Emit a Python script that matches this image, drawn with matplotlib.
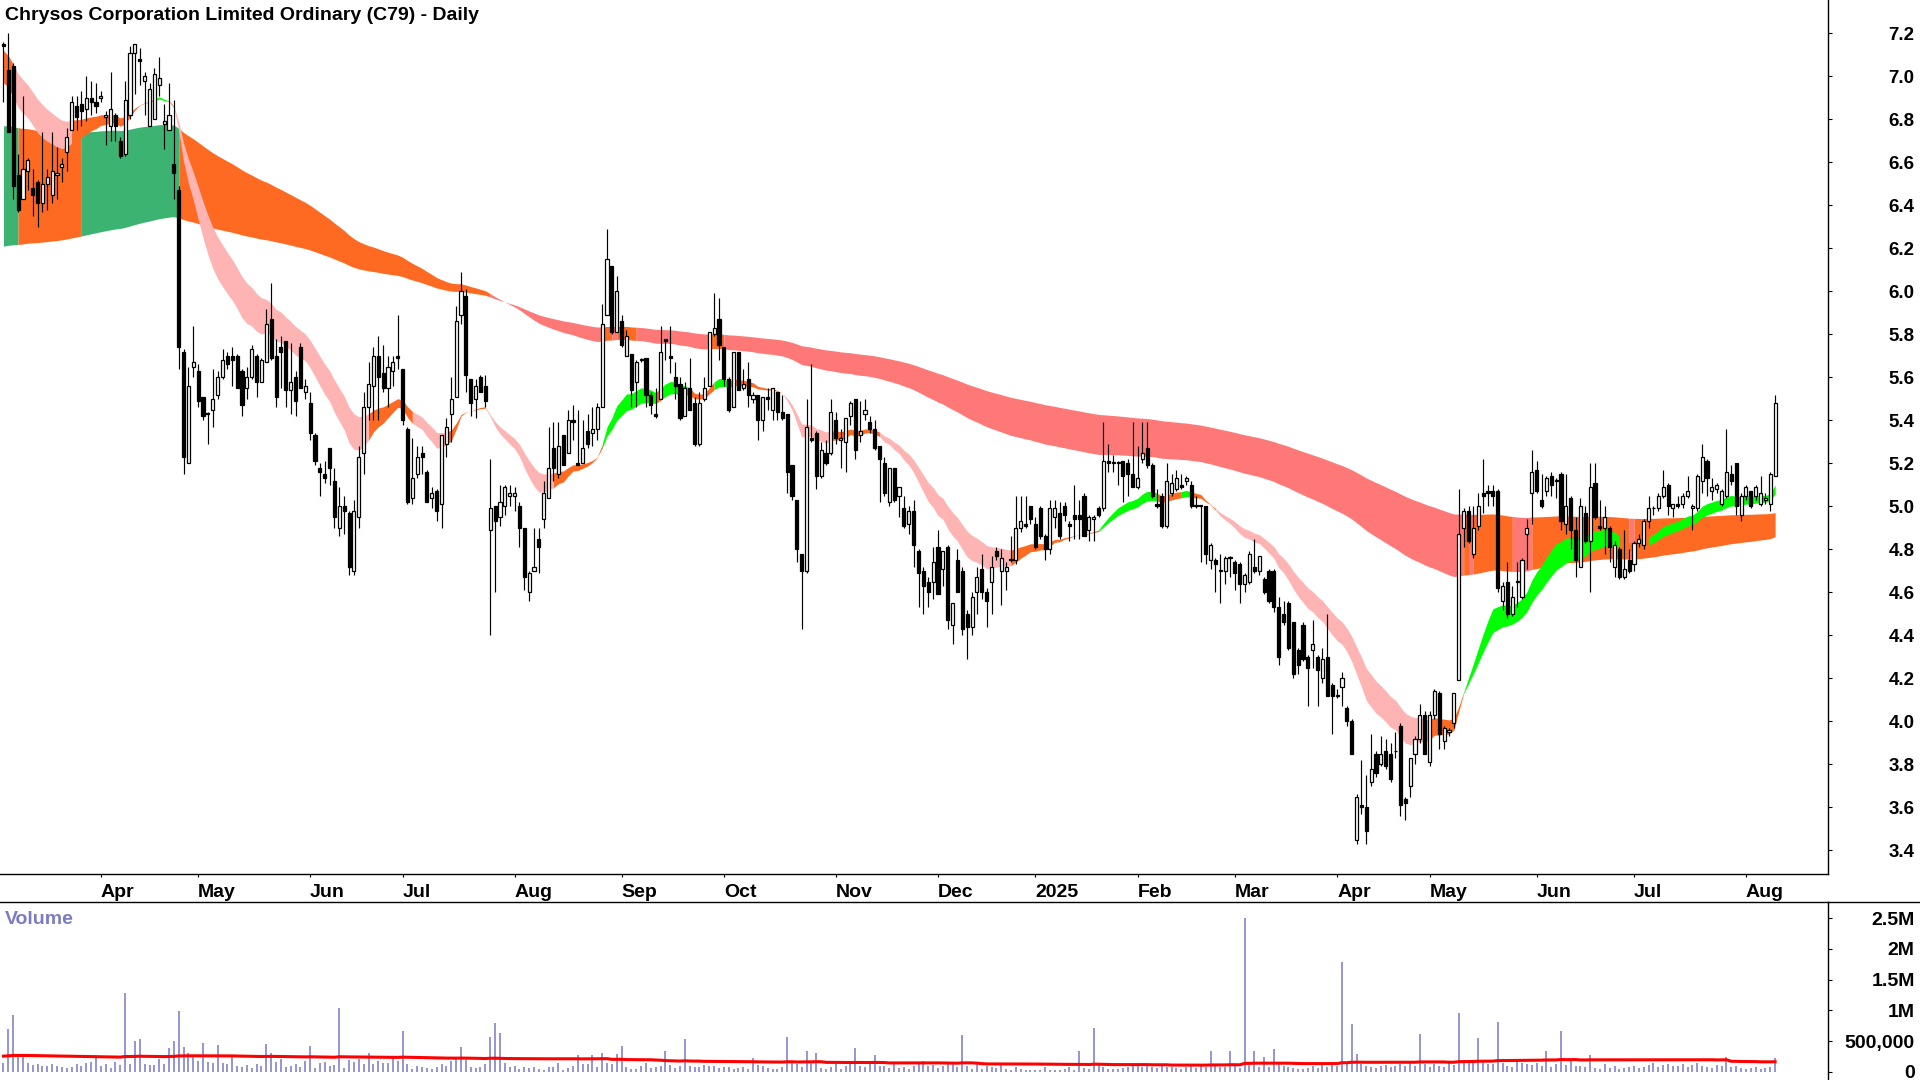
import numpy as np
import pandas as pd
import matplotlib
matplotlib.use('Agg')
import matplotlib.pyplot as plt
from matplotlib.lines import Line2D

plt.rcParams['font.family'] = ['Liberation Sans', 'DejaVu Sans']

title = 'Chrysos Corporation Limited Ordinary (C79) - Daily'

# daily bars, 1 Mar 2024 .. 11 Aug 2025
opens = [
    7.15, 7.03, 7.05, 6.54, 6.43, 6.56, 6.48, 6.51, 6.41, 6.50,
    6.45, 6.54, 6.58, 6.65, 6.75, 6.86, 6.87, 6.85, 6.90, 6.88,
    6.90, 6.81, 6.77, 6.82, 6.70, 6.64, 6.82, 7.11, 7.08, 6.98,
    6.77, 6.80, 6.96, 6.78, 6.75, 6.59, 6.47, 5.72, 5.20, 5.65,
    5.63, 5.51, 5.43, 5.45, 5.52, 5.60, 5.70, 5.70, 5.70, 5.63,
    5.55, 5.60, 5.70, 5.58, 5.67, 5.87, 5.70, 5.74, 5.77, 5.54,
    5.60, 5.74, 5.53, 5.48, 5.33, 5.18, 5.15, 5.27, 5.12, 4.90,
    5.00, 4.97, 4.70, 4.95, 5.25, 5.46, 5.56, 5.70, 5.62, 5.55,
    5.63, 5.70, 5.64, 5.36, 5.04, 5.15, 5.25, 5.16, 5.04, 5.07,
    5.01, 5.29, 5.43, 5.51, 5.89, 5.98, 5.59, 5.50, 5.60, 5.56,
    4.89, 5.00, 4.95, 5.00, 5.05, 5.05, 5.00, 4.90, 4.60, 4.70,
    4.85, 4.94, 5.04, 5.27, 5.15, 5.33, 5.25, 5.40, 5.20, 5.20,
    5.35, 5.34, 5.36, 5.46, 5.89, 6.12, 5.81, 5.86, 5.70, 5.71,
    5.58, 5.68, 5.69, 5.52, 5.43, 5.50, 5.78, 5.70, 5.60, 5.57,
    5.42, 5.55, 5.48, 5.29, 5.50, 5.56, 5.80, 5.87, 5.74, 5.59,
    5.46, 5.72, 5.55, 5.59, 5.50, 5.52, 5.40, 5.51, 5.45, 5.53,
    5.44, 5.43, 5.19, 5.03, 4.78, 4.70, 5.32, 5.34, 5.14, 5.25,
    5.25, 5.40, 5.31, 5.30, 5.42, 5.50, 5.33, 5.43, 5.39, 5.36,
    5.28, 5.20, 5.02, 5.18, 5.05, 4.99, 4.92, 4.98, 4.79, 4.70,
    4.65, 4.65, 4.81, 4.71, 4.81, 4.45, 4.75, 4.70, 4.50, 4.44,
    4.60, 4.71, 4.60, 4.65, 4.79, 4.70, 4.70, 4.75, 4.75, 4.90,
    4.92, 5.00, 4.92, 4.99, 4.86, 4.80, 4.95, 4.97, 5.00, 4.92,
    4.96, 4.96, 5.05, 4.89, 4.94, 4.99, 4.99, 5.21, 5.20, 5.20,
    5.21, 5.20, 5.15, 5.09, 5.22, 5.27, 5.19, 5.01, 5.05, 4.91,
    5.06, 5.08, 5.10, 5.12, 5.10, 5.00, 5.00, 5.00, 4.75, 4.75,
    4.70, 4.70, 4.76, 4.74, 4.73, 4.64, 4.65, 4.72, 4.70, 4.66,
    4.70, 4.70, 4.53, 4.50, 4.55, 4.46, 4.33, 4.45, 4.30, 4.33,
    4.30, 4.20, 4.30, 4.17, 4.12, 4.16, 4.06, 4.00, 3.45, 3.61,
    3.60, 3.72, 3.85, 3.80, 3.86, 3.85, 3.86, 3.98, 3.64, 3.70,
    3.85, 3.92, 4.03, 3.81, 4.03, 4.13, 3.91, 3.95, 3.99, 4.19,
    4.90, 4.98, 4.78, 4.91, 5.06, 5.07, 5.07, 5.07, 4.56, 4.65,
    4.50, 4.65, 4.58, 4.87, 5.06, 5.17, 5.03, 5.07, 5.14, 5.12,
    5.15, 4.92, 5.04, 4.89, 4.72, 4.97, 4.84, 5.11, 4.91, 4.90,
    4.90, 4.72, 4.80, 4.67, 4.75, 4.73, 4.83, 4.82, 4.93, 4.99,
    4.99, 5.05, 5.10, 4.99, 5.01, 5.01, 5.05, 4.99, 4.99, 5.12,
    5.21, 5.07, 5.08, 5.01, 5.05, 5.15, 5.20, 4.96, 5.05, 5.07,
    5.05, 5.01, 5.03, 5.01, 5.14,
]
highs = [
    7.16, 7.20, 7.06, 6.64, 6.91, 6.62, 6.57, 6.52, 6.74, 6.57,
    6.74, 6.67, 6.62, 6.76, 6.91, 6.91, 6.93, 7.00, 6.98, 6.97,
    6.93, 6.84, 7.02, 6.83, 6.72, 6.98, 7.14, 7.15, 7.13, 7.02,
    6.97, 7.04, 7.09, 6.87, 6.97, 6.89, 6.49, 5.73, 5.65, 5.84,
    5.66, 5.51, 5.44, 5.64, 5.63, 5.73, 5.72, 5.74, 5.71, 5.64,
    5.65, 5.75, 5.71, 5.69, 5.92, 6.04, 5.78, 5.79, 5.77, 5.76,
    5.63, 5.76, 5.59, 5.53, 5.34, 5.20, 5.21, 5.27, 5.18, 5.09,
    5.05, 4.98, 5.03, 5.28, 5.53, 5.67, 5.74, 5.79, 5.75, 5.70,
    5.70, 5.89, 5.64, 5.37, 5.32, 5.28, 5.28, 5.17, 5.09, 5.08,
    5.33, 5.41, 5.60, 5.93, 6.09, 6.01, 5.59, 5.59, 5.61, 5.61,
    5.22, 5.00, 5.10, 5.10, 5.10, 5.09, 5.02, 4.90, 4.70, 4.90,
    4.90, 5.12, 5.37, 5.39, 5.39, 5.33, 5.45, 5.47, 5.45, 5.40,
    5.43, 5.46, 5.48, 5.94, 6.29, 6.12, 6.07, 5.89, 5.82, 5.71,
    5.68, 5.69, 5.69, 5.53, 5.55, 5.84, 5.78, 5.84, 5.67, 5.60,
    5.58, 5.69, 5.51, 5.53, 5.60, 5.81, 5.99, 5.97, 5.74, 5.60,
    5.72, 5.72, 5.64, 5.67, 5.53, 5.52, 5.51, 5.55, 5.55, 5.53,
    5.52, 5.43, 5.19, 5.03, 4.78, 5.50, 5.66, 5.35, 5.30, 5.31,
    5.50, 5.44, 5.36, 5.41, 5.49, 5.50, 5.49, 5.50, 5.42, 5.40,
    5.28, 5.23, 5.18, 5.18, 5.09, 5.05, 5.00, 5.03, 4.80, 4.72,
    4.67, 4.81, 4.89, 4.79, 4.82, 4.55, 4.80, 4.72, 4.52, 4.60,
    4.72, 4.78, 4.62, 4.77, 4.81, 4.80, 4.74, 4.86, 5.05, 5.05,
    5.05, 5.00, 4.95, 5.00, 4.87, 5.03, 5.03, 5.02, 5.02, 4.93,
    5.10, 5.03, 5.06, 4.96, 4.96, 5.00, 5.39, 5.29, 5.24, 5.21,
    5.21, 5.22, 5.39, 5.28, 5.39, 5.39, 5.20, 5.08, 5.06, 5.20,
    5.15, 5.17, 5.15, 5.14, 5.12, 5.05, 5.00, 5.00, 4.83, 4.76,
    4.78, 4.77, 4.77, 4.75, 4.74, 4.69, 4.79, 4.85, 4.77, 4.67,
    4.71, 4.71, 4.58, 4.56, 4.56, 4.46, 4.34, 4.46, 4.31, 4.47,
    4.31, 4.34, 4.50, 4.18, 4.15, 4.23, 4.07, 4.01, 3.66, 3.82,
    3.75, 3.94, 3.86, 3.93, 3.92, 3.90, 3.95, 3.99, 3.65, 3.83,
    3.93, 4.08, 4.05, 4.05, 4.15, 4.14, 3.98, 3.97, 4.13, 5.08,
    4.99, 5.00, 5.00, 5.06, 5.22, 5.10, 5.10, 5.08, 4.65, 4.74,
    4.63, 4.74, 4.76, 4.94, 5.26, 5.21, 5.15, 5.14, 5.16, 5.13,
    5.16, 5.15, 5.05, 4.95, 5.04, 5.00, 5.20, 5.20, 5.03, 5.00,
    4.91, 4.84, 4.81, 4.89, 4.80, 4.84, 4.87, 4.94, 5.05, 5.00,
    5.06, 5.17, 5.11, 5.01, 5.05, 5.06, 5.14, 5.01, 5.15, 5.29,
    5.22, 5.13, 5.11, 5.08, 5.36, 5.19, 5.20, 5.06, 5.10, 5.07,
    5.10, 5.14, 5.06, 5.16, 5.52,
]
lows = [
    6.88, 6.74, 6.43, 6.37, 6.43, 6.47, 6.35, 6.30, 6.37, 6.38,
    6.41, 6.43, 6.51, 6.56, 6.75, 6.75, 6.77, 6.79, 6.82, 6.83,
    6.88, 6.68, 6.70, 6.70, 6.62, 6.63, 6.80, 6.92, 6.96, 6.82,
    6.77, 6.80, 6.91, 6.66, 6.75, 6.43, 5.64, 5.15, 5.20, 5.60,
    5.46, 5.40, 5.29, 5.37, 5.50, 5.59, 5.64, 5.56, 5.55, 5.42,
    5.50, 5.59, 5.51, 5.58, 5.67, 5.68, 5.46, 5.55, 5.46, 5.43,
    5.42, 5.55, 5.50, 5.31, 5.19, 5.05, 5.11, 5.10, 4.90, 4.86,
    4.87, 4.68, 4.68, 4.90, 5.15, 5.40, 5.40, 5.40, 5.53, 5.46,
    5.56, 5.64, 5.38, 5.01, 5.01, 5.13, 5.15, 5.02, 4.99, 4.93,
    4.90, 5.23, 5.30, 5.51, 5.85, 5.53, 5.42, 5.41, 5.53, 5.46,
    4.40, 4.60, 4.91, 4.96, 5.00, 4.98, 4.81, 4.61, 4.56, 4.70,
    4.69, 4.90, 5.04, 5.12, 5.13, 5.19, 5.25, 5.31, 5.19, 5.20,
    5.27, 5.28, 5.31, 5.46, 5.89, 5.80, 5.81, 5.74, 5.70, 5.46,
    5.46, 5.67, 5.46, 5.43, 5.41, 5.50, 5.68, 5.62, 5.50, 5.40,
    5.42, 5.45, 5.28, 5.28, 5.49, 5.56, 5.79, 5.68, 5.56, 5.44,
    5.46, 5.54, 5.54, 5.46, 5.48, 5.31, 5.35, 5.45, 5.40, 5.40,
    5.40, 5.06, 5.03, 4.74, 4.43, 4.69, 5.30, 5.08, 5.13, 5.19,
    5.24, 5.29, 5.18, 5.16, 5.38, 5.22, 5.30, 5.40, 5.34, 5.26,
    5.02, 5.05, 5.00, 5.02, 4.95, 4.90, 4.87, 4.72, 4.53, 4.50,
    4.53, 4.57, 4.59, 4.63, 4.43, 4.36, 4.60, 4.40, 4.29, 4.40,
    4.50, 4.57, 4.44, 4.50, 4.75, 4.54, 4.61, 4.74, 4.73, 4.88,
    4.90, 4.92, 4.80, 4.85, 4.75, 4.78, 4.90, 4.85, 4.93, 4.84,
    4.85, 4.85, 4.86, 4.84, 4.84, 4.95, 4.98, 5.16, 5.16, 5.10,
    5.02, 5.05, 5.09, 5.08, 5.20, 5.18, 5.04, 4.99, 4.90, 4.90,
    5.05, 5.07, 5.08, 5.10, 4.99, 4.99, 4.74, 4.73, 4.71, 4.60,
    4.55, 4.64, 4.67, 4.61, 4.55, 4.60, 4.64, 4.69, 4.68, 4.59,
    4.55, 4.51, 4.26, 4.45, 4.33, 4.20, 4.22, 4.28, 4.07, 4.25,
    4.07, 4.18, 4.12, 3.94, 4.11, 4.07, 3.98, 3.85, 3.43, 3.57,
    3.43, 3.70, 3.74, 3.79, 3.78, 3.72, 3.83, 3.56, 3.54, 3.65,
    3.80, 3.90, 3.85, 3.79, 4.01, 3.87, 3.87, 3.93, 3.97, 4.19,
    4.81, 4.83, 4.76, 4.89, 4.97, 5.00, 5.00, 4.60, 4.52, 4.48,
    4.49, 4.53, 4.57, 4.71, 4.92, 5.06, 4.99, 5.05, 5.05, 5.04,
    4.89, 4.87, 4.80, 4.67, 4.72, 4.83, 4.60, 4.94, 4.89, 4.78,
    4.74, 4.67, 4.66, 4.66, 4.69, 4.70, 4.81, 4.80, 4.90, 4.96,
    4.98, 5.04, 4.96, 4.95, 4.99, 4.99, 5.04, 4.89, 4.98, 5.06,
    5.05, 5.03, 5.06, 5.00, 5.04, 5.10, 4.96, 4.93, 5.03, 4.99,
    5.03, 5.00, 5.01, 4.98, 5.14,
]
closes = [
    7.14, 6.74, 6.49, 6.38, 6.57, 6.61, 6.45, 6.41, 6.50, 6.53,
    6.56, 6.55, 6.59, 6.72, 6.88, 6.81, 6.84, 6.90, 6.88, 6.86,
    6.91, 6.82, 6.85, 6.77, 6.63, 6.89, 7.11, 7.15, 7.07, 7.00,
    6.94, 7.01, 6.99, 6.79, 6.82, 6.55, 5.74, 5.23, 5.56, 5.67,
    5.49, 5.42, 5.43, 5.50, 5.60, 5.68, 5.66, 5.68, 5.55, 5.47,
    5.60, 5.73, 5.58, 5.68, 5.85, 5.69, 5.51, 5.72, 5.54, 5.58,
    5.49, 5.55, 5.56, 5.34, 5.21, 5.16, 5.13, 5.18, 4.95, 5.00,
    4.98, 4.72, 4.98, 5.23, 5.46, 5.57, 5.70, 5.60, 5.55, 5.65,
    5.67, 5.69, 5.40, 5.02, 5.13, 5.23, 5.23, 5.02, 5.06, 4.98,
    5.33, 5.37, 5.50, 5.86, 6.00, 5.61, 5.48, 5.56, 5.53, 5.49,
    4.99, 4.93, 5.02, 5.09, 5.06, 5.06, 4.90, 4.67, 4.69, 4.72,
    4.81, 5.06, 5.18, 5.18, 5.28, 5.19, 5.40, 5.39, 5.19, 5.27,
    5.29, 5.36, 5.46, 5.85, 6.15, 5.81, 6.00, 5.75, 5.79, 5.54,
    5.67, 5.68, 5.52, 5.47, 5.42, 5.72, 5.77, 5.69, 5.56, 5.41,
    5.55, 5.45, 5.29, 5.48, 5.55, 5.81, 5.83, 5.75, 5.59, 5.45,
    5.72, 5.54, 5.57, 5.52, 5.52, 5.40, 5.51, 5.50, 5.55, 5.44,
    5.41, 5.16, 5.05, 4.80, 4.70, 5.37, 5.31, 5.14, 5.26, 5.20,
    5.44, 5.32, 5.32, 5.41, 5.48, 5.26, 5.35, 5.45, 5.36, 5.27,
    5.22, 5.06, 5.18, 5.03, 5.09, 4.91, 4.98, 4.82, 4.69, 4.63,
    4.60, 4.74, 4.59, 4.79, 4.47, 4.55, 4.60, 4.43, 4.44, 4.58,
    4.67, 4.60, 4.56, 4.72, 4.77, 4.76, 4.72, 4.75, 4.90, 4.93,
    4.91, 4.94, 4.81, 4.86, 4.80, 4.99, 4.99, 4.86, 4.96, 4.91,
    4.94, 4.94, 4.86, 4.95, 4.95, 4.96, 5.21, 5.20, 5.20, 5.20,
    5.14, 5.15, 5.09, 5.13, 5.25, 5.19, 5.05, 5.00, 4.91, 5.12,
    5.11, 5.13, 5.09, 5.13, 5.00, 5.00, 5.00, 4.78, 4.82, 4.73,
    4.70, 4.76, 4.76, 4.69, 4.64, 4.68, 4.78, 4.70, 4.77, 4.60,
    4.56, 4.53, 4.30, 4.46, 4.34, 4.22, 4.26, 4.29, 4.25, 4.36,
    4.24, 4.29, 4.12, 4.12, 4.12, 4.20, 4.00, 3.85, 3.65, 3.60,
    3.49, 3.78, 3.76, 3.85, 3.79, 3.73, 3.86, 3.61, 3.62, 3.83,
    3.92, 4.03, 3.85, 4.03, 4.14, 3.94, 3.97, 3.96, 4.13, 4.87,
    4.98, 4.84, 4.90, 5.00, 5.05, 5.06, 5.05, 4.62, 4.63, 4.50,
    4.58, 4.65, 4.75, 4.90, 5.16, 5.07, 5.00, 5.13, 5.10, 5.12,
    4.93, 5.00, 4.89, 4.75, 5.00, 4.84, 5.09, 4.95, 4.90, 4.95,
    4.81, 4.82, 4.67, 4.71, 4.70, 4.83, 4.85, 4.93, 4.99, 4.99,
    5.05, 5.09, 5.00, 5.01, 5.00, 5.05, 5.07, 5.00, 5.14, 5.23,
    5.13, 5.09, 5.10, 5.07, 5.16, 5.12, 5.00, 5.05, 5.09, 5.00,
    5.09, 5.06, 5.04, 5.15, 5.48,
]
# volume in thousands of shares
volume_k = [
    150, 700, 920, 270, 280, 140, 110, 120, 95, 100,
    130, 90, 80, 60, 75, 120, 85, 140, 165, 280,
    90, 130, 60, 160, 110, 1280, 130, 500, 530, 120,
    110, 105, 200, 130, 390, 500, 990, 400, 310, 240,
    170, 460, 160, 150, 430, 150, 120, 240, 90, 80,
    110, 60, 120, 90, 450, 310, 160, 210, 70, 100,
    130, 80, 170, 420, 60, 140, 160, 90, 110, 1040,
    60, 190, 160, 200, 130, 300, 120, 170, 140, 150,
    230, 170, 660, 120, 50, 90, 70, 60, 40, 80,
    130, 100, 180, 240, 400, 190, 80, 60, 70, 130,
    570, 790, 630, 140, 70, 90, 50, 80, 60, 70,
    50, 30, 80, 70, 140, 30, 60, 90, 280, 120,
    130, 270, 80, 310, 150, 120, 290, 420, 70, 50,
    40, 90, 140, 60, 70, 100, 340, 110, 60, 90,
    530, 100, 80, 70, 110, 90, 90, 60, 80, 70,
    40, 60, 70, 40, 230, 110, 100, 60, 50, 40,
    80, 560, 150, 120, 80, 340, 160, 310, 60, 40,
    70, 120, 50, 100, 170, 390, 100, 70, 150, 280,
    90, 100, 60, 130, 60, 80, 40, 90, 120, 170,
    90, 110, 60, 100, 130, 160, 70, 600, 90, 50,
    140, 40, 100, 80, 60, 130, 50, 30, 70, 40,
    30, 20, 30, 20, 70, 30, 20, 20, 40, 70,
    30, 330, 60, 50, 720, 110, 70, 50, 40, 50,
    60, 70, 90, 100, 80, 90, 70, 60, 100, 80,
    70, 60, 50, 80, 90, 60, 90, 80, 340, 100,
    80, 70, 330, 90, 60, 2510, 110, 340, 80, 240,
    70, 370, 130, 90, 70, 60, 50, 40, 60, 90,
    60, 110, 80, 150, 90, 1790, 130, 780, 290, 120,
    100, 80, 60, 90, 110, 70, 100, 120, 90, 160,
    100, 620, 120, 80, 130, 90, 70, 150, 110, 960,
    190, 140, 180, 550, 190, 130, 120, 810, 150, 90,
    70, 160, 140, 130, 110, 150, 90, 330, 80, 120,
    660, 110, 180, 90, 100, 70, 280, 60, 50, 120,
    60, 90, 40, 60, 70, 100, 60, 80, 110, 140,
    70, 110, 130, 90, 100, 120, 70, 110, 150, 90,
    80, 60, 110, 90, 240, 70, 90, 60, 40, 60,
    70, 50, 60, 80, 230,
]

asx_holidays = ['2024-03-29', '2024-04-01', '2024-04-25', '2024-06-10',
                '2024-12-25', '2024-12-26', '2025-01-01', '2025-01-27',
                '2025-04-18', '2025-04-21', '2025-04-25', '2025-06-09']

# moving average values at the first bar (history before the chart)
ema_start = {20: 6.97, 30: 7.12, 150: 6.77, 250: 6.21}
vol_avg_start_k = 255

# ribbon colour state, (first bar, state) as shown on the chart
fast_trend = [(0, 'o'), (2, 'p'), (14, 'o'), (31, 'g'), (34, 'o'), (35, 'p'),
              (75, 'o'), (84, 'p'), (91, 'o'), (99, 'p'), (113, 'o'), (123, 'g'),
              (134, 'o'), (135, 'g'), (141, 'o'), (146, 'g'), (150, 'o'),
              (160, 'p'), (170, 'o'), (180, 'p'), (207, 'o'), (225, 'g'),
              (237, 'o'), (242, 'g'), (244, 'o'), (249, 'p'), (293, 'o'),
              (300, 'g'), (332, 'o'), (338, 'g')]
slow_trend = [(0, 'g'), (3, 'o'), (16, 'g'), (36, 'o'), (100, 'd'), (123, 'o'),
              (125, 'd'), (126, 'o'), (130, 'd'), (145, 'o'), (148, 'd'),
              (300, 'o'), (301, 'd'), (302, 'o'), (310, 'd'), (314, 'o'),
              (334, 'd'), (335, 'o')]

fast_colours = {'g': '#00ff00', 'o': '#ff6a22', 'p': '#ffb4b4'}
slow_colours = {'g': '#3cb371', 'o': '#ff6a22', 'd': '#ff7878'}

o = np.array(opens)
h = np.array(highs)
l = np.array(lows)
c = np.array(closes)
vol = np.array(volume_k) * 1000.0
n = len(c)
x = np.arange(n)

days = pd.bdate_range('2024-03-01', '2025-09-30')
days = days[~days.isin(pd.to_datetime(asx_holidays))][:n]


def ema(values, span, start):
    out = np.empty(len(values))
    out[0] = start
    a = 2.0 / (span + 1)
    for i in range(1, len(values)):
        out[i] = out[i - 1] + a * (values[i] - out[i - 1])
    return out


e20 = ema(c, 20, ema_start[20])
e30 = ema(c, 30, ema_start[30])
e150 = ema(c, 150, ema_start[150])
e250 = ema(c, 250, ema_start[250])

vol_ma = np.array([(vol[max(0, i - 99):i + 1].sum() + max(0, 99 - i) * vol_avg_start_k * 1000.0) / 100
                   for i in range(n)])


def ribbon(ax, a, b, trend, colours, z):
    lo = np.minimum(a, b)
    hi = np.maximum(a, b)
    bounds = [s for s, _ in trend] + [n - 1]
    for (s, key), e in zip(trend, bounds[1:]):
        ax.fill_between(x[s:e + 1], lo[s:e + 1], hi[s:e + 1],
                        color=colours[key], lw=0, zorder=z)


W, H = 1920.0, 1080.0
right = 1827.7
xlim = (-0.719, 374.8)

fig = plt.figure(figsize=(19.2, 10.8), dpi=100)
ax = fig.add_axes([0, 1 - 874 / H, right / W, 874 / H])
axv = fig.add_axes([0, 0, right / W, 178 / H])

# price panel
ribbon(ax, e150, e250, slow_trend, slow_colours, 1)
ribbon(ax, e20, e30, fast_trend, fast_colours, 2)

ax.vlines(x, l, h, color='black', lw=0.85, zorder=3)
up = c >= o
bottom = np.minimum(o, c)
height = np.maximum(np.abs(c - o), 0.004)
ax.bar(x[up], height[up], bottom=bottom[up], width=0.64, facecolor='white',
       edgecolor='black', linewidth=0.9, zorder=4)
ax.bar(x[~up], height[~up], bottom=bottom[~up], width=0.64, facecolor='black',
       edgecolor='black', linewidth=0.9, zorder=4)

ax.set_xlim(*xlim)
ax.set_ylim(3.290, 7.355)

month_idx = [i for i in range(1, n) if days[i].month != days[i - 1].month]
month_lbl = [days[i].strftime('%Y') if days[i].month == 1 else days[i].strftime('%b')
             for i in month_idx]
ax.set_xticks(month_idx)
ax.set_xticklabels(month_lbl, fontsize=14, fontweight='bold', ha='left')
ax.tick_params(axis='x', direction='out', length=2.4, width=0.8, pad=4.5)

ax.yaxis.tick_right()
yt = np.round(np.arange(3.4, 7.21, 0.2), 1)
ax.set_yticks(yt)
ax.set_yticklabels(['%.1f' % v for v in yt], fontsize=13.5, fontweight='bold')
ax.tick_params(axis='y', direction='out', length=2.9, width=0.8, pad=59.7)
for t in ax.get_yticklabels():
    t.set_horizontalalignment('right')

for s in ['left', 'top']:
    ax.spines[s].set_visible(False)
for s in ['right', 'bottom']:
    ax.spines[s].set_linewidth(1.0)

# volume panel
axv.vlines(x, 0, vol, color='#7878c8', lw=1.1, zorder=2)
axv.plot(x, vol_ma, color='red', lw=2.2, zorder=3)
axv.set_xlim(*xlim)
axv.set_ylim(-135000, 2764000)
axv.set_xticks([])
axv.yaxis.tick_right()
vt = [0, 500000, 1000000, 1500000, 2000000, 2500000]
axv.set_yticks(vt)
axv.set_yticklabels(['0', '500,000', '1M', '1.5M', '2M', '2.5M'], fontsize=14, fontweight='bold')
axv.tick_params(axis='y', direction='out', length=2.9, width=0.8, pad=59.7)
for t in axv.get_yticklabels():
    t.set_horizontalalignment('right')
for s in ['left', 'bottom']:
    axv.spines[s].set_visible(False)
for s in ['right', 'top']:
    axv.spines[s].set_linewidth(1.0)

fig.add_artist(Line2D([right / W, 1], [178 / H, 178 / H], color='black', lw=1.0))

fig.text(5 / W, 1 - 16 / H, title, fontsize=14, fontweight='bold', va='center')
fig.text(5 / W, 1 - 920 / H, 'Volume', fontsize=14, fontweight='bold', va='center', color='#7b7bc3')

fig.savefig('out.png', dpi=100)
